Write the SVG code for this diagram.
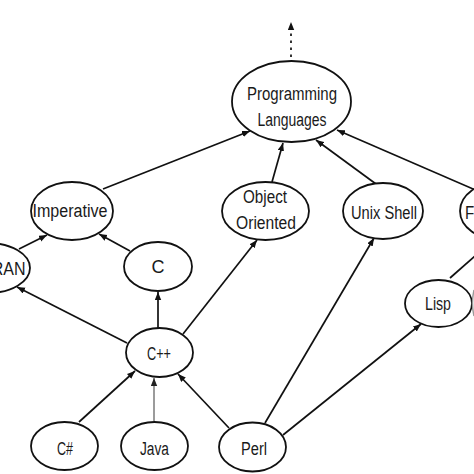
<svg xmlns="http://www.w3.org/2000/svg" width="474" height="474" viewBox="0 0 474 474">
<defs>
<marker id="ah" markerUnits="userSpaceOnUse" markerWidth="9" markerHeight="7" refX="8" refY="3.2" orient="auto">
<path d="M0,0 L8,3.2 L0,6.4 z" fill="#111"/>
</marker>
<marker id="ahg" markerUnits="userSpaceOnUse" markerWidth="9" markerHeight="7" refX="8" refY="3.2" orient="auto">
<path d="M0,0 L8,3.2 L0,6.4 z" fill="#222"/>
</marker>
</defs>
<style>
.n ellipse{fill:#fff;stroke:#111;stroke-width:1.8}
text{font-family:"Liberation Sans",Arial,sans-serif;font-size:18px;fill:#1a1a1a;text-anchor:middle}
.e line{stroke:#111;stroke-width:1.7;marker-end:url(#ah)}
.e line.g{stroke:#8a8a8a;marker-end:url(#ahg)}
.e line.d{stroke-dasharray:2.5,4.5}
</style>
<rect width="474" height="474" fill="#fff"/>
<g id="connectors" class="e">
<line class="d" x1="291" y1="57" x2="291" y2="22"/>
<line x1="103" y1="189" x2="250" y2="131"/>
<line x1="272" y1="182" x2="283" y2="143"/>
<line x1="376" y1="184" x2="316" y2="140"/>
<line x1="480" y1="192" x2="337" y2="130"/>
<line x1="19" y1="249" x2="47" y2="235"/>
<line x1="130" y1="251" x2="99" y2="234"/>
<line x1="158" y1="328" x2="158" y2="292"/>
<line x1="127" y1="343" x2="17" y2="287"/>
<line x1="183" y1="334" x2="257" y2="240"/>
<line x1="265" y1="423" x2="374" y2="238"/>
<line x1="283" y1="435" x2="421" y2="324"/>
<line x1="450" y1="278" x2="493" y2="240"/>
<line x1="79" y1="422" x2="135" y2="371"/>
<line class="g" x1="154" y1="421" x2="154" y2="378"/>
<line x1="229" y1="428" x2="178" y2="374"/>
</g>
<g id="programming-languages" class="n">
<ellipse cx="291.5" cy="101.5" rx="59.5" ry="40.5"/>
<text x="292" y="100" textLength="90" lengthAdjust="spacingAndGlyphs">Programming</text>
<text x="292" y="126" textLength="69" lengthAdjust="spacingAndGlyphs">Languages</text>
</g>
<g id="imperative" class="n">
<ellipse cx="72" cy="211" rx="41" ry="29"/>
<text x="70" y="217" textLength="75" lengthAdjust="spacingAndGlyphs">Imperative</text>
</g>
<g id="object-oriented" class="n">
<ellipse cx="265.5" cy="211" rx="43.5" ry="29"/>
<text x="265" y="203" textLength="44" lengthAdjust="spacingAndGlyphs">Object</text>
<text x="266" y="229" textLength="60" lengthAdjust="spacingAndGlyphs">Oriented</text>
</g>
<g id="unix-shell" class="n">
<ellipse cx="383" cy="211" rx="40" ry="28"/>
<text x="384" y="219" textLength="66" lengthAdjust="spacingAndGlyphs">Unix Shell</text>
</g>
<g id="functional" class="n">
<ellipse cx="500" cy="211" rx="40" ry="29"/>
<text x="500" y="219" textLength="70" lengthAdjust="spacingAndGlyphs">Functional</text>
</g>
<g id="fortran" class="n">
<ellipse cx="-12" cy="268" rx="42" ry="25"/>
<text x="-13" y="275" textLength="77" lengthAdjust="spacingAndGlyphs">FORTRAN</text>
</g>
<g id="c" class="n">
<ellipse cx="158" cy="266.5" rx="34" ry="24.5"/>
<text x="158" y="273">C</text>
</g>
<g id="cpp" class="n">
<ellipse cx="159.5" cy="352.5" rx="33.5" ry="24.5"/>
<text x="159" y="360" textLength="24" lengthAdjust="spacingAndGlyphs">C++</text>
</g>
<g id="lisp" class="n">
<ellipse cx="438.5" cy="303.5" rx="33.5" ry="23.5"/>
<text x="438" y="310" textLength="26" lengthAdjust="spacingAndGlyphs">Lisp</text>
</g>
<g id="partial" >
<path d="M474,290 Q471,303 474,316" fill="none" stroke="#999" stroke-width="1.5"/>
</g>
<g id="csharp" class="n">
<ellipse cx="64.5" cy="446" rx="33.5" ry="24"/>
<text x="65" y="455" textLength="16" lengthAdjust="spacingAndGlyphs">C#</text>
</g>
<g id="java" class="n">
<ellipse cx="154.5" cy="446" rx="33.5" ry="24"/>
<text x="154.5" y="455" textLength="29" lengthAdjust="spacingAndGlyphs">Java</text>
</g>
<g id="perl" class="n">
<ellipse cx="252.5" cy="447" rx="33.5" ry="24.5"/>
<text x="254" y="455" textLength="26" lengthAdjust="spacingAndGlyphs">Perl</text>
</g>
</svg>
